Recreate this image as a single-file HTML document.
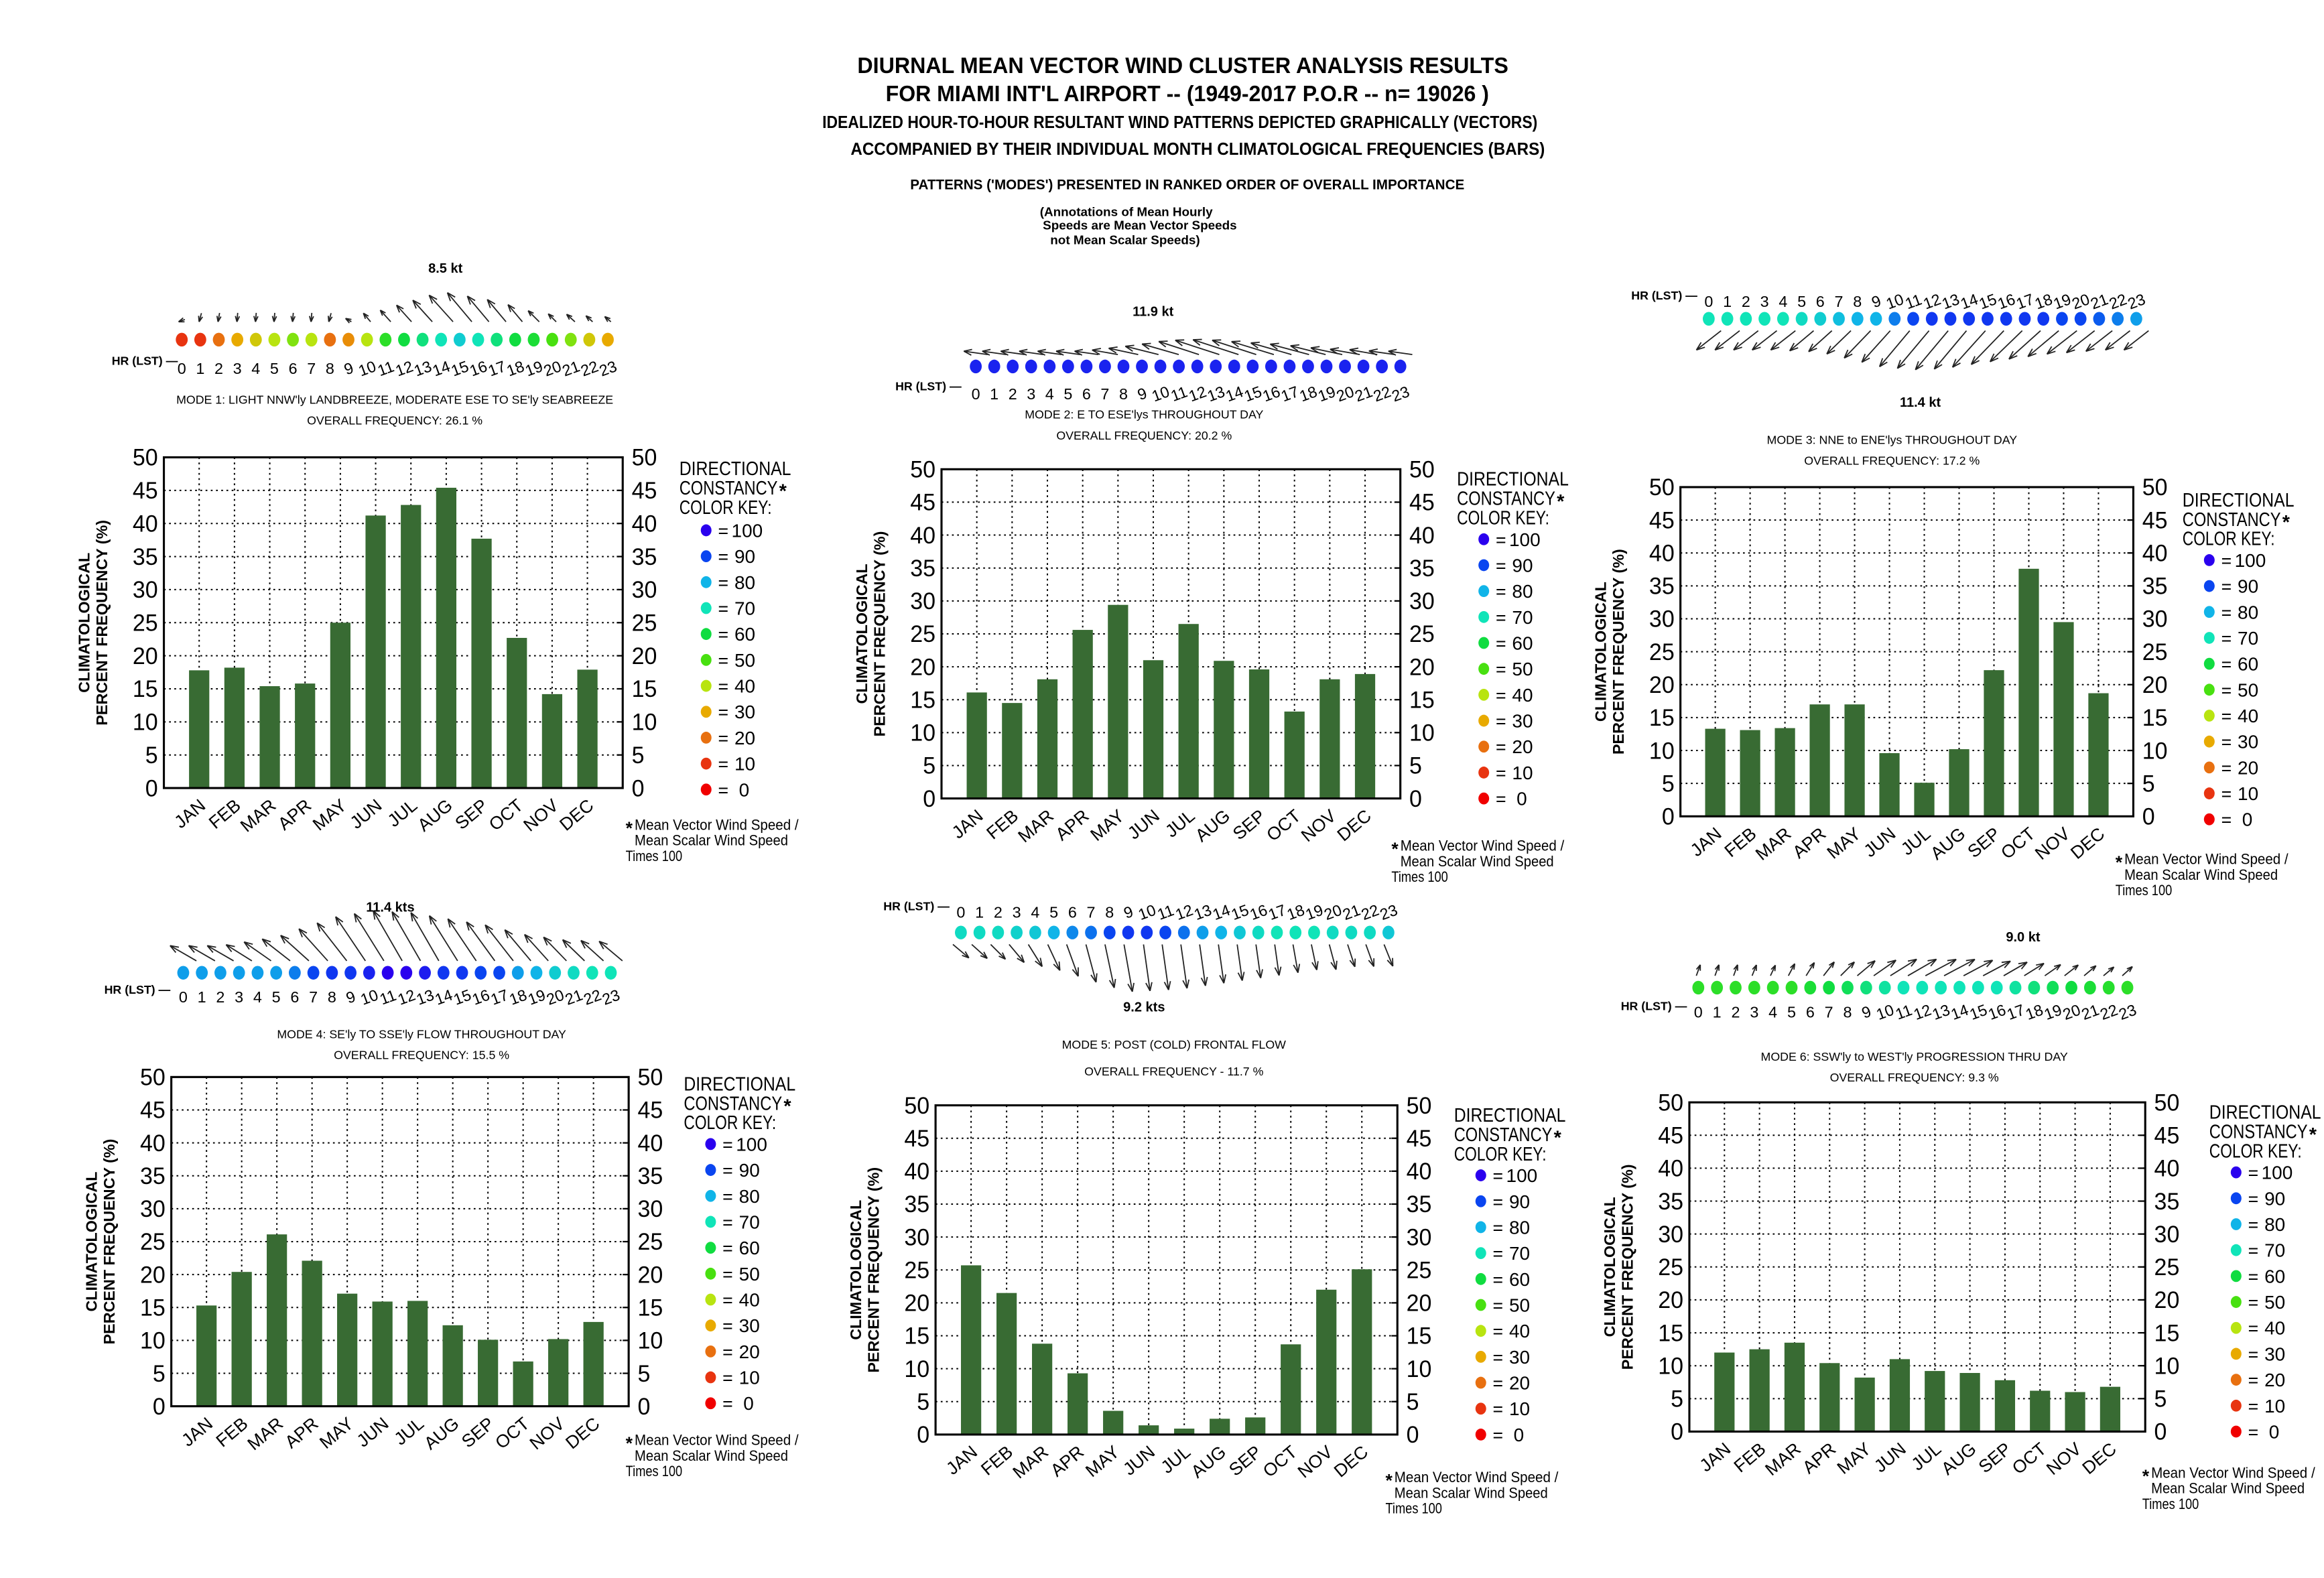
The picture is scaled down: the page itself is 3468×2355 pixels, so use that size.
<!DOCTYPE html>
<html><head><meta charset="utf-8"><style>
html,body{margin:0;padding:0;background:#fff}
svg{display:block}
text{font-family:"Liberation Sans Narrow","Liberation Sans",sans-serif}
</style></head><body>
<svg id="c" xmlns="http://www.w3.org/2000/svg" width="3468" height="2355" viewBox="0 0 1560 1059.3" preserveAspectRatio="none">
<rect width="1560" height="1060" fill="#fff"/>
<g font-weight="bold" text-anchor="middle" fill="#000">
<text x="794" y="49" font-size="15" textLength="437" lengthAdjust="spacingAndGlyphs">DIURNAL MEAN VECTOR WIND CLUSTER ANALYSIS RESULTS</text>
<text x="797" y="68" font-size="15" textLength="405" lengthAdjust="spacingAndGlyphs">FOR MIAMI  INT'L AIRPORT --  (1949-2017 P.O.R -- n= 19026 )</text>
<text x="792" y="86" font-size="11.5" textLength="480" lengthAdjust="spacingAndGlyphs">IDEALIZED HOUR-TO-HOUR RESULTANT WIND PATTERNS DEPICTED GRAPHICALLY (VECTORS)</text>
<text x="804" y="104" font-size="11.5" textLength="466" lengthAdjust="spacingAndGlyphs">ACCOMPANIED BY THEIR INDIVIDUAL MONTH CLIMATOLOGICAL FREQUENCIES (BARS)</text>
<text x="797" y="127" font-size="9.5" textLength="372" lengthAdjust="spacingAndGlyphs">PATTERNS ('MODES') PRESENTED IN RANKED ORDER OF OVERALL IMPORTANCE</text>
<g font-size="8.5" text-anchor="start">
<text x="698" y="145">(Annotations of Mean Hourly</text>
<text x="700" y="154">Speeds are Mean Vector Speeds</text>
<text x="705" y="164">not Mean Scalar Speeds)</text>
</g>
</g>
<g id="panels"></g>
</svg>
<script>
const months = ["JAN","FEB","MAR","APR","MAY","JUN","JUL","AUG","SEP","OCT","NOV","DEC"];
const yTicks = [0,5,10,15,20,25,30,35,40,45,50];
const keyValues = [100,90,80,70,60,50,40,30,20,10,0];
const freqMode1 = [17.8,18.2,15.4,15.8,25.0,41.2,42.8,45.4,37.7,22.7,14.2,17.9];
const freqMode2 = [16.1,14.5,18.1,25.6,29.4,21.0,26.5,20.9,19.6,13.2,18.1,18.9];
const freqMode3 = [13.3,13.1,13.4,17.0,17.0,9.6,5.1,10.2,22.2,37.6,29.5,18.7];
const freqMode4 = [15.3,20.4,26.1,22.1,17.1,15.9,16.0,12.3,10.1,6.8,10.2,12.8];
const freqMode5 = [25.7,21.5,13.8,9.3,3.6,1.4,0.9,2.4,2.6,13.7,22.0,25.1];
const freqMode6 = [12.0,12.5,13.5,10.4,8.2,11.0,9.2,8.9,7.8,6.2,6.0,6.8];
const hours = [0,1,2,3,4,5,6,7,8,9,10,11,12,13,14,15,16,17,18,19,20,21,22,23];
const constMode1 = [10,10,20,30,35,40,45,40,20,25,40,55,60,65,70,75,70,65,60,58,50,45,35,30];
const constMode2 = [95,95,95,95,95,95,95,95,95,95,95,95,95,95,95,95,95,95,95,95,95,95,95,95];
const constMode3 = [70,70,70,70,70,72,75,78,80,80,85,90,92,92,92,92,92,92,92,90,90,88,85,82];
const constMode4 = [82,82,82,82,82,82,85,90,92,92,95,100,100,96,92,92,90,90,82,80,75,72,70,70];
const constMode5 = [72,72,72,74,76,80,84,86,90,92,92,90,86,82,80,76,72,70,70,70,72,72,72,76];
const constMode6 = [55,55,55,55,55,55,58,60,62,65,68,70,70,70,70,70,70,68,65,62,60,58,56,55];
const speedMode1 = [1.5,2,2,2,2,2,2,2,2,1.5,2.5,3.5,5,6.5,8,8.5,7.5,6.5,5,3.5,2.5,2.5,2,1.8];
const dirMode1 = [250,195,190,185,185,185,185,185,195,300,320,318,318,318,318,320,320,320,320,315,315,312,312,310];
const speedMode2 = [6,6,6,6,6,6,6,6.5,7.5,8.5,9.5,10.5,11.5,11.9,11.5,11,10.5,10,9,8,7.5,7,6.5,6];
const dirMode2 = [278,278,278,278,278,278,278,280,282,284,286,288,288,288,288,287,286,285,284,282,280,280,278,278];
const speedMode3 = [7,7,7,7,7,7,7,7.5,8.5,9.5,10.5,11,11.4,11.2,11,10.5,10,9.5,9,8.5,8,7.5,7,7];
const dirMode3 = [232,232,232,232,232,230,228,226,224,222,220,220,220,220,222,224,226,228,230,232,232,232,232,232];
const speedMode4 = [6,6,6,6,6.5,7,7.5,8.5,9.5,10.5,11,11.4,11.2,11,10.5,10,9.5,9,8,7,6.5,6,6,6];
const dirMode4 = [300,300,300,302,305,308,312,318,322,326,328,330,330,330,328,326,324,322,320,318,316,314,312,310];
const speedMode5 = [4,4,4,4.5,5,5.5,6.5,7.5,8.5,9.2,9,8.8,8.5,8,7.5,7,6.5,6,5.5,5,5,4.5,4.5,4.5];
const dirMode5 = [130,132,135,140,148,155,160,165,168,170,172,172,172,172,172,172,172,172,170,168,165,162,160,158];
const speedMode6 = [3,3,3,3,3,3.5,4,4.5,5,6,7,8,8.5,9,9,8.5,8,7,6,5,4.5,4,3.5,3.5];
const dirMode6 = [20,20,20,22,25,28,32,38,45,50,55,58,60,62,62,62,62,60,58,55,52,50,50,48];

const NS="http://www.w3.org/2000/svg";
const root=document.getElementById('panels');
function mk(tag,attrs,parent){const e=document.createElementNS(NS,tag);for(const k in attrs)e.setAttribute(k,attrs[k]);(parent||root).appendChild(e);return e;}
function txt(s,attrs,parent){const e=mk('text',attrs,parent);e.textContent=s;return e;}
const keyColors=["#2a00ee","#0a45f0","#10b4e8","#10e4b8","#10dc40","#48e010","#b8e410","#e8aa00","#e87010","#e83410","#f00000"];
function rgb(h){return [parseInt(h.slice(1,3),16),parseInt(h.slice(3,5),16),parseInt(h.slice(5,7),16)];}
function constColor(v){
  const t=Math.max(0,Math.min(100,v))/10; const i=Math.floor(t); const f=t-i;
  const a=rgb(keyColors[10-i]); const b=rgb(keyColors[Math.max(0,10-i-1)]);
  const c=a.map((x,k)=>Math.round(x+(b[k]-x)*f)); return `rgb(${c[0]},${c[1]},${c[2]})`;
}

const panels=[
 {id:1,freq:freqMode1,cons:constMode1,spd:speedMode1,dir:dirMode1,px0:110,px1:418,top:307,bot:529,lx:456,ly:309,dy:356,fx:420,fy:557,
  hx0:122,hx1:408,dotY:228,labY:247,hrX:75,hrY:245,above:true,base:216,scale:3.0,sl:"8.5 kt",slx:299,sly:183,
  mode:"MODE 1:  LIGHT NNW'ly  LANDBREEZE, MODERATE ESE TO SE'ly SEABREEZE",mx:265,my:271,fr:"OVERALL FREQUENCY: 26.1 %",fry:285},
 {id:2,freq:freqMode2,cons:constMode2,spd:speedMode2,dir:dirMode2,px0:632,px1:940,top:315,bot:536,lx:978,ly:316,dy:362,fx:934,fy:571,
  hx0:655,hx1:940,dotY:246,labY:264,hrX:601,hrY:262,above:true,base:238,scale:2.7,sl:"11.9 kt",slx:774,sly:212,
  mode:"MODE 2:  E TO ESE'lys THROUGHOUT DAY",mx:768,my:281,fr:"OVERALL FREQUENCY: 20.2 %",fry:295},
 {id:3,freq:freqMode3,cons:constMode3,spd:speedMode3,dir:dirMode3,px0:1128,px1:1432,top:327,bot:548,lx:1465,ly:330,dy:376,fx:1420,fy:580,
  hx0:1147,hx1:1434,dotY:214,labY:202,hrX:1095,hrY:201,above:false,base:222,scale:3.0,sl:"11.4 kt",slx:1289,sly:273,
  mode:"MODE 3:  NNE to ENE'lys THROUGHOUT DAY",mx:1270,my:298,fr:"OVERALL FREQUENCY: 17.2 %",fry:312},
 {id:4,freq:freqMode4,cons:constMode4,spd:speedMode4,dir:dirMode4,px0:115,px1:422,top:723,bot:944,lx:459,ly:722,dy:768,fx:420,fy:970,
  hx0:123,hx1:410,dotY:653,labY:669,hrX:70,hrY:667,above:true,base:645,scale:3.4,sl:"11.4 kts",slx:262,sly:612,
  mode:"MODE 4:  SE'ly TO SSE'ly FLOW THROUGHOUT DAY",mx:283,my:697,fr:"OVERALL FREQUENCY: 15.5 %",fry:711},
 {id:5,freq:freqMode5,cons:constMode5,spd:speedMode5,dir:dirMode5,px0:628,px1:938,top:742,bot:963,lx:976,ly:743,dy:789,fx:930,fy:995,
  hx0:645,hx1:932,dotY:626,labY:612,hrX:593,hrY:611,above:false,base:634,scale:3.5,sl:"9.2 kts",slx:768,sly:679,
  mode:"MODE 5:  POST (COLD) FRONTAL FLOW",mx:788,my:704,fr:"OVERALL FREQUENCY - 11.7 %",fry:722},
 {id:6,freq:freqMode6,cons:constMode6,spd:speedMode6,dir:dirMode6,px0:1134,px1:1440,top:740,bot:961,lx:1483,ly:741,dy:787,fx:1438,fy:992,
  hx0:1140,hx1:1428,dotY:663,labY:679,hrX:1088,hrY:678,above:true,base:655,scale:2.6,sl:"9.0 kt",slx:1358,sly:632,
  mode:"MODE 6:  SSW'ly to WEST'ly PROGRESSION THRU DAY",mx:1285,my:712,fr:"OVERALL FREQUENCY: 9.3 %",fry:726}
];

panels.forEach(p=>{
  const g=mk('g',{});
  
  
  const W=p.px1-p.px0, H=p.bot-p.top;
  const yS=v=>p.bot-v/50*H;
  const xS=i=>p.px0+(i+1)*W/13;
  yTicks.forEach(v=>{ if(v>0&&v<50){const l=mk('line',{x1:p.px0,x2:p.px1,y1:yS(v),y2:yS(v),stroke:'#000','stroke-width':0.9,'stroke-dasharray':'1.2,2.3'},g);
    
    }});
  months.forEach((m,i)=>{const l=mk('line',{x1:xS(i),x2:xS(i),y1:p.top,y2:p.bot,stroke:'#000','stroke-width':0.9,'stroke-dasharray':'1.2,2.3'},g);
    
    });
  p.freq.forEach((v,i)=>{const r=mk('rect',{x:xS(i)-6.8,y:yS(v),width:13.6,height:p.bot-yS(v),fill:'#386b33'},g);
    
    });
  const fr=mk('rect',{x:p.px0,y:p.top,width:W,height:H,fill:'none',stroke:'#000','stroke-width':1.4},g);
  
  
  yTicks.forEach(v=>{
    const w=v>=10?17:8.5;
    const a=txt(String(v),{x:p.px0-4,y:yS(v)+5.5,'font-size':16,'text-anchor':'end',textLength:w,lengthAdjust:'spacingAndGlyphs'},g);
    
    
    const b=txt(String(v),{x:p.px1+6,y:yS(v)+5.5,'font-size':16,textLength:w,lengthAdjust:'spacingAndGlyphs'},g);
    
    
    mk('line',{x1:p.px1-4,x2:p.px1,y1:yS(v),y2:yS(v),stroke:'#000','stroke-width':1},g);
  });
  months.forEach((m,i)=>{
    const t=txt(m,{x:xS(i)+5,y:p.bot+13,'font-size':12,'text-anchor':'end',transform:`rotate(-40 ${xS(i)+5} ${p.bot+13})`},g);
    
    
  });
  const cy=(p.top+p.bot)/2;
  const t1=txt('CLIMATOLOGICAL',{x:p.px0-50,y:cy,'font-size':10.5,'font-weight':'bold','text-anchor':'middle','font-family':'Liberation Sans, sans-serif',transform:`rotate(-90 ${p.px0-50} ${cy})`},g);
  
  
  const t2=txt('PERCENT FREQUENCY (%)',{x:p.px0-38,y:cy,'font-size':10.5,'font-weight':'bold','text-anchor':'middle','font-family':'Liberation Sans, sans-serif',transform:`rotate(-90 ${p.px0-38} ${cy})`},g);
  
  
  const lg=mk('g',{},g);
  
  
  [['DIRECTIONAL',75],['CONSTANCY',66],['COLOR KEY:',62]].forEach((s,k)=>{const t=txt(s[0],{x:p.lx,y:p.ly+10+k*13,'font-size':13,textLength:s[1],lengthAdjust:'spacingAndGlyphs'},lg);
    
    });
  txt('*',{x:p.lx+67,y:p.ly+25,'font-size':13,'font-weight':'bold'},lg);
  keyValues.forEach((v,k)=>{
    const y=p.dy+k*17.4;
    const c=mk('ellipse',{cx:p.lx+18,cy:y,rx:3.6,ry:4,fill:keyColors[k]},lg);
    
    
    txt('=',{x:p.lx+26,y:y+4.5,'font-size':12},lg);
    txt(String(v),{x:p.lx+(v===100?35:(v===0?40:37)),y:y+4.5,'font-size':12.5,textLength:v===100?21:(v===0?7:14),lengthAdjust:'spacingAndGlyphs'},lg);
  });
  const fn=mk('g',{},g);
  
  
  txt('*',{x:p.fx,y:p.fy+3,'font-size':12,'font-weight':'bold'},fn);
  txt('Mean Vector Wind Speed /',{x:p.fx+6,y:p.fy,'font-size':10,textLength:110,lengthAdjust:'spacingAndGlyphs'},fn);
  txt('Mean Scalar Wind Speed',{x:p.fx+6,y:p.fy+10.5,'font-size':10,textLength:103,lengthAdjust:'spacingAndGlyphs'},fn);
  txt('Times 100',{x:p.fx,y:p.fy+21,'font-size':10,textLength:38,lengthAdjust:'spacingAndGlyphs'},fn);
  const hs=i=>p.hx0+i*(p.hx1-p.hx0)/23;
  const hr=txt('HR (LST) \u2014',{x:p.hrX,y:p.hrY,'font-size':8,'font-weight':'bold'},g);
  
  
  hours.forEach(h=>{
    const d=mk('ellipse',{cx:hs(h),cy:p.dotY,rx:4,ry:4.6,fill:constColor(p.cons[h])},g);
    
    
    const lt=txt(String(h),{x:hs(h),y:p.labY+4,'font-size':10.5,'text-anchor':'middle',transform:h>=9?`rotate(-20 ${hs(h)} ${p.labY})`:''},g);
    
    
    const L=p.spd[h]*p.scale, th=p.dir[h]*Math.PI/180;
    const dx=Math.sin(th)*L, dy=-Math.cos(th)*L;
    let x0=hs(h)-dx/2, y0;
    if(p.above){ y0=p.base-Math.max(0,dy); } else { y0=p.base-Math.min(0,dy); }
    const x1=x0+dx, y1=y0+dy;
    const ag=mk('g',{stroke:'#222','stroke-width':0.8,fill:'none'},g);
    
    
    mk('line',{x1:x0,y1:y0,x2:x1,y2:y1},ag);
    const hl=Math.min(6,Math.max(4,L*0.35));
    [0.35,-0.35].forEach(a=>{
      const ang=Math.atan2(-dy,-dx)+a;
      mk('line',{x1:x1,y1:y1,x2:x1+Math.cos(ang)*hl,y2:y1+Math.sin(ang)*hl},ag);
    });
  });
  const sl=txt(p.sl,{x:p.slx,y:p.sly,'font-size':9,'font-weight':'bold','text-anchor':'middle'},g);
  
  
  const mt=txt(p.mode,{x:p.mx,y:p.my,'font-size':8,'text-anchor':'middle'},g);
  
  
  const ft=txt(p.fr,{x:p.mx,y:p.fry,'font-size':8,'text-anchor':'middle'},g);
  
  
});
</script>
</body></html>
